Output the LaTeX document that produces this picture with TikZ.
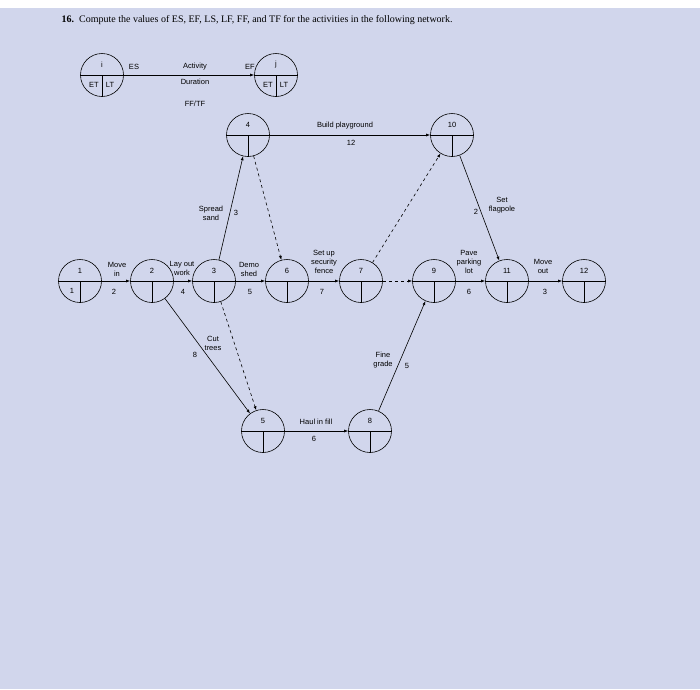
\documentclass[tikz,border=0pt]{standalone}
\usepackage{fontspec}
\setmainfont{Liberation Serif}
\setsansfont{Liberation Sans}
\usetikzlibrary{arrows.meta}
\definecolor{bgblue}{RGB}{209,214,236}
\tikzset{
  ev/.style={circle, draw, minimum size=43pt, inner sep=0pt},
  lab/.style={font=\sffamily\fontsize{7.5}{9}\selectfont, align=center, inner sep=1pt},
  act/.style={-{Latex[length=4pt,width=3pt]}},
  dum/.style={act, dashed}
}
\newcommand{\evnode}[4]{%
  \node[ev] (#1) at (#2) {};
  \draw (#1.west) -- (#1.east) (#1.center) -- (#1.south);
  \node[lab] at ([yshift=10pt]#1.center) {#3};
  \node[lab] at ([xshift=-8pt,yshift=-10pt]#1.center) {#4};
}
\begin{document}
\begin{tikzpicture}[x=1pt, y=-1pt, line width=0.6pt]
\fill[bgblue] (0,0) rectangle (700,689);
\fill[white] (0,0) rectangle (700,8);
\useasboundingbox (0,0) rectangle (700,689);
\node[anchor=west, font=\fontsize{10}{11}\selectfont] at (58,20) {\textbf{16.}\enspace Compute the values of ES, EF, LS, LF, FF, and TF for the activities in the following network.};

% legend
\evnode{i}{102,75}{i}{ET}
\node[lab] at ([xshift=8pt,yshift=-10pt]i.center) {LT};
\evnode{j}{276,75}{j}{ET}
\node[lab] at ([xshift=8pt,yshift=-10pt]j.center) {LT};
\draw[act] (i.east) -- (j.west);
\node[lab] at (134,67) {ES};
\node[lab] at (195,67) {Activity};
\node[lab] at (195,82) {Duration};
\node[lab] at (250,67) {EF};
\node[lab] at (195,104) {FF/TF};

% events
\evnode{n1}{80,281}{1}{1}
\evnode{n2}{152,281}{2}{}
\evnode{n3}{214,281}{3}{}
\evnode{n6}{287,281}{6}{}
\evnode{n7}{361,281}{7}{}
\evnode{n9}{434,281}{9}{}
\evnode{n11}{507,281}{11}{}
\evnode{n12}{584,281}{12}{}
\evnode{n4}{248,135}{4}{}
\evnode{n10}{452,135}{10}{}
\evnode{n5}{263,431}{5}{}
\evnode{n8}{370,431}{8}{}

% activities
\draw[act] (n1.east) -- (n2.west);
\draw[act] (n2.east) -- (n3.west);
\draw[act] (n3.east) -- (n6.west);
\draw[act] (n6.east) -- (n7.west);
\draw[dum] (n7.east) -- (n9.west);
\draw[act] (n9.east) -- (n11.west);
\draw[act] (n11.east) -- (n12.west);
\draw[act] (n3) -- (n4);
\draw[dum] (n4) -- (n6);
\draw[act] (n4.east) -- (n10.west);
\draw[dum] (n7) -- (n10);
\draw[act] (n10) -- (n11);
\draw[act] (n2) -- (n5);
\draw[dum] (n3) -- (n5);
\draw[act] (n5.east) -- (n8.west);
\draw[act] (n8) -- (n9);

% labels
\node[lab] at (117,269) {Move\\in};
\node[lab] at (114,292) {2};
\node[lab] at (182,268) {Lay out\\work};
\node[lab] at (183,292) {4};
\node[lab] at (249,269) {Demo\\shed};
\node[lab] at (250,292) {5};
\node[lab] at (324,262) {Set up\\security\\fence};
\node[lab] at (322,292) {7};
\node[lab] at (469,262) {Pave\\parking\\lot};
\node[lab] at (469,292) {6};
\node[lab] at (543,266) {Move\\out};
\node[lab] at (545,292) {3};
\node[lab] at (211,213) {Spread\\sand};
\node[lab] at (236,213) {3};
\node[lab] at (345,126) {Build playground};
\node[lab] at (351,143) {12};
\node[lab] at (502,205) {Set\\flagpole};
\node[lab] at (476,212) {2};
\node[lab] at (213,343) {Cut\\trees};
\node[lab] at (195,355) {8};
\node[lab] at (383,360) {Fine\\grade};
\node[lab] at (407,366) {5};
\node[lab] at (316,422) {Haul in fill};
\node[lab] at (314,439) {6};
\end{tikzpicture}
\end{document}
